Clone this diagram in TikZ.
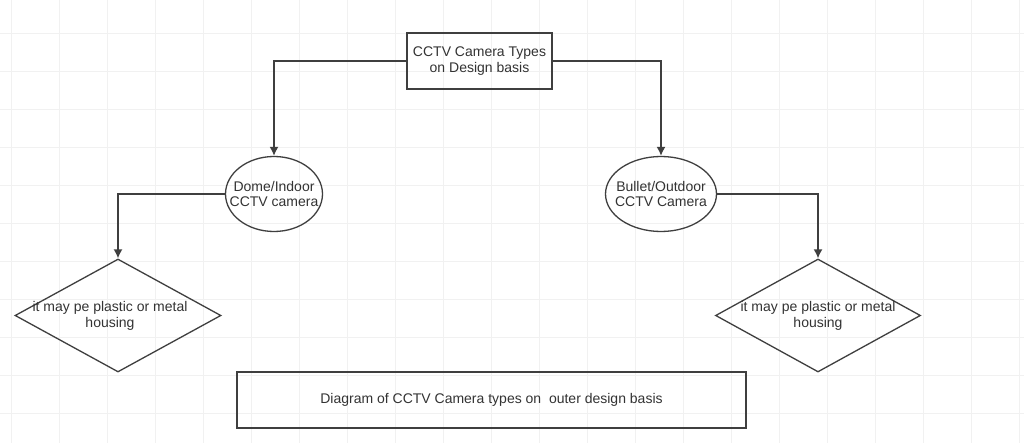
\documentclass[tikz,border=0pt]{standalone}
\usepackage{fontspec}
\setmainfont{Liberation Sans}
\usetikzlibrary{shapes.geometric,arrows.meta}
\definecolor{ln}{HTML}{3F3F3F}
\definecolor{tx}{HTML}{333333}
\definecolor{gridc}{HTML}{F1F1F1}
\tikzset{
  every node/.style={font=\fontsize{14}{15.5}\selectfont, text=tx, align=center},
  boxnode/.style={draw=ln, line width=1.3pt, rectangle, inner sep=0pt},
  ellnode/.style={draw=ln, line width=1.3pt, ellipse, inner sep=0pt},
  dianode/.style={draw=ln, line width=1.3pt, diamond, inner sep=0pt},
  conn/.style={draw=ln, line width=1.5pt, -{Latex[length=9pt,width=9pt]}},
}
\begin{document}
\begin{tikzpicture}[x=1pt,y=-1pt]
\useasboundingbox (0,0) rectangle (1024,443);
\fill[white] (0,0) rectangle (1024,443);
% faint background grid
\foreach \gx in {11,59,...,1020} \draw[gridc, line width=0.8pt] (\gx,0) -- (\gx,443);
\foreach \gy in {33,71,...,443} \draw[gridc, line width=0.8pt] (0,\gy) -- (1024,\gy);

\node[boxnode, minimum width=145pt, minimum height=56pt] (top) at (479.5,61) {CCTV Camera Types\\on Design basis};
\node[ellnode, minimum width=97pt, minimum height=75pt] (dome) at (274,194) {};
\node (domet) at (274,194) {Dome/Indoor\\CCTV camera};
\node[ellnode, minimum width=111pt, minimum height=75pt] (bullet) at (661,194) {};
\node (bullett) at (661,194) {Bullet/Outdoor\\CCTV Camera};
\node[dianode, minimum width=206pt, minimum height=113pt] (d1) at (118,315.5) {};
\node (t1) at (110,316) {it may pe plastic or metal\\housing};
\node[dianode, minimum width=205pt, minimum height=113pt] (d2) at (818,315.5) {};
\node (t2) at (818,316) {it may pe plastic or metal\\housing};
\node[boxnode, minimum width=509pt, minimum height=56pt] (cap) at (491.5,400) {Diagram of CCTV Camera types on\ \ outer design basis};

\draw[conn] (top.west) -| (dome.north);
\draw[conn] (top.east) -| (bullet.north);
\draw[conn] (dome.west) -| (d1.north);
\draw[conn] (bullet.east) -| (d2.north);
\end{tikzpicture}
\end{document}
